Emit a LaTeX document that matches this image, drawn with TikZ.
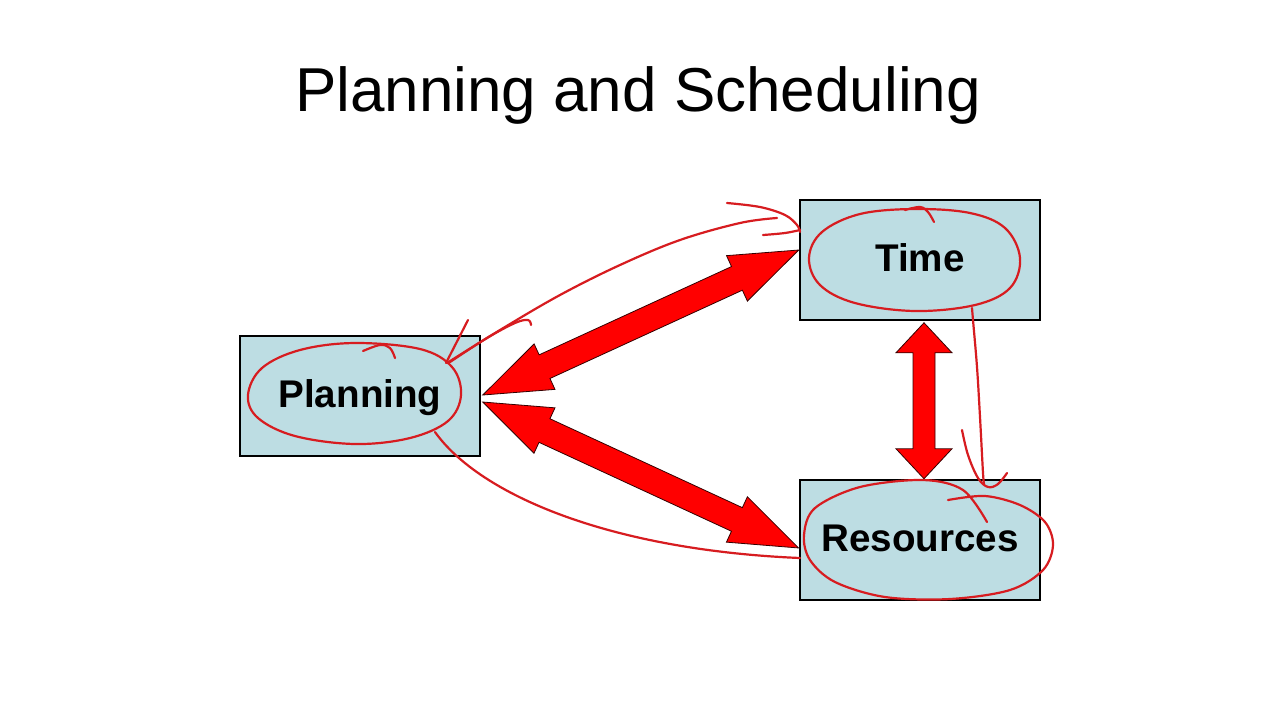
\documentclass[tikz,border=0pt]{standalone}
\usepackage{fontspec}
\setmainfont{Liberation Sans}
\definecolor{boxblue}{RGB}{189,221,227}
\definecolor{pen}{RGB}{215,28,32}
\definecolor{arrowred}{RGB}{255,0,0}
\tikzset{
  box/.style={draw=black, line width=0.75pt, fill=boxblue, minimum width=120pt, minimum height=60pt, inner sep=0pt,
    text height=15pt, text depth=4pt,
    font=\bfseries\fontsize{19.3pt}{23pt}\selectfont},
  bigarrow/.style={fill=arrowred, draw=black!80!red, line width=0.4pt, line join=miter},
  penline/.style={draw=pen, line width=1.1pt, line cap=round, line join=round},
}
\newcommand\bigdarrow[6]{%
  \draw[bigarrow, shift={(#1)}, rotate=#2] (0,0) -- (#4,#5) -- (#4,#6) -- ({#3-#4},#6) -- ({#3-#4},#5) -- (#3,0)
    -- ({#3-#4},-#5) -- ({#3-#4},-#6) -- (#4,-#6) -- (#4,-#5) -- cycle;}
\begin{document}
\begin{tikzpicture}[x=0.5pt, y=-0.5pt]
\useasboundingbox (0,0) rectangle (1280,720);
\fill[white] (0,0) rectangle (1280,720);

\node[font=\fontsize{31pt}{37pt}\selectfont] (title) at (638,95) {Planning and Scheduling};

\node[box] (P) at (360,396) {Planning};
\node[box] (T) at (920,260) {Time};
\node[box] (R) at (920,540) {Resources};

% big double arrows
\coordinate (a1) at ([shift={(2,-1)}]P.east);
\coordinate (a2) at ([shift={(2,6)}]P.east);
\coordinate (a3) at ([shift={(4,2)}]T.south);
\bigdarrow{a1}{24.65}{347.7}{68}{25}{13}
\bigdarrow{a2}{-24.8}{348}{68}{25}{13}
\bigdarrow{a3}{-90}{156}{30}{28}{11}

% hand-drawn ellipses
\draw[penline] plot[smooth cycle, tension=0.6] coordinates {(355,343) (420,349) (452,367) (461,395) (448,421) (410,438) (355,444) (295,436) (258,418) (248,395) (262,368) (300,350)};
\draw[penline] plot[smooth, tension=0.6] coordinates {(363,351) (380,345) (390,348) (395,358)};

\draw[penline] plot[smooth cycle, tension=0.6] coordinates {(915,209) (970,213) (1005,228) (1020,258) (1010,288) (975,305) (915,311) (855,303) (820,285) (809,258) (822,232) (860,214)};
\draw[penline] plot[smooth, tension=0.6] coordinates {(905,210) (920,207) (928,212) (934,222)};

\draw[penline] plot[smooth, tension=0.55] coordinates {(948,500) (985,496) (1020,505) (1045,522) (1053,545) (1043,570) (1010,590) (950,599) (885,597) (835,582) (810,560) (804,535) (815,508) (860,487) (923,480) (963,490) (987,522)};

% Planning - Time arc with heads
\draw[penline] plot[smooth, tension=0.6] coordinates {(447,363) (500,330) (560,295) (620,265) (680,240) (740,223) (777,218)};
\draw[penline] (468,320) -- (446,363);
\draw[penline] plot[smooth, tension=0.6] coordinates {(531,325) (528,320) (515,323) (487,338) (450,362)};
\draw[penline] plot[smooth, tension=0.6] coordinates {(727,203) (760,207) (785,215) (797,225) (800,232)};
\draw[penline] plot[smooth, tension=0.6] coordinates {(763,235) (785,233) (800,230)};

% Planning - Resources arc
\draw[penline] (435,432) .. controls (480,495) and (610,550) .. (800,558);

% Time - Resources line
\draw[penline] plot[smooth, tension=0.6] coordinates {(972,308) (973,320) (977,367) (980,417) (983,473) (984,484)};
\draw[penline] plot[smooth, tension=0.6] coordinates {(962,430) (968,455) (978,478) (988,487) (998,484) (1007,473)};
\end{tikzpicture}
\end{document}
